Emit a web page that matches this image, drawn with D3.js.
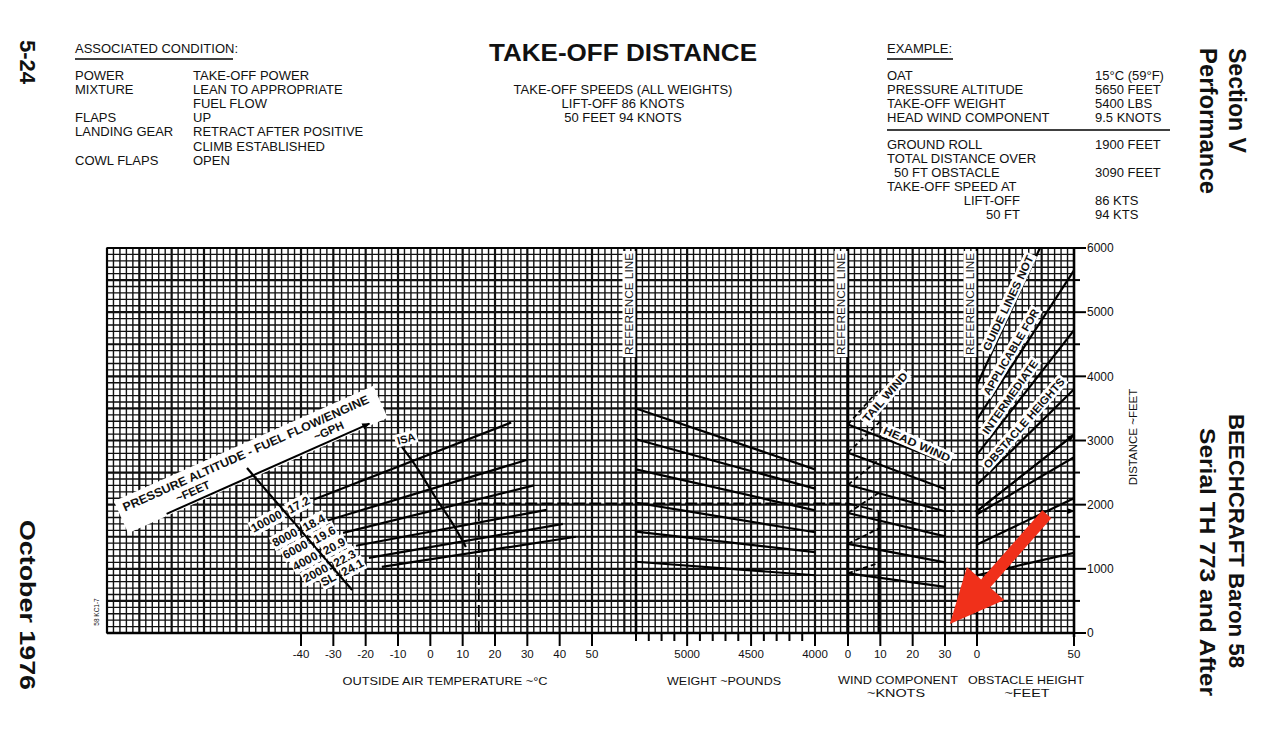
<!DOCTYPE html>
<html><head><meta charset="utf-8">
<script src="https://cdn.jsdelivr.net/npm/d3@7"></script>
<style>
body{margin:0;background:#fff;}
svg{display:block;}
text{font-family:"Liberation Sans",Arial,Helvetica,sans-serif;fill:#111;}
</style></head><body>
<svg id="c" width="1286" height="752"></svg>
<script>
// ---------------- DATA ----------------
const tempTicks = [-40,-30,-20,-10,0,10,20,30,40,50];
const weightTicks = [5000,4500,4000];
const weightMinorTicks = [5400,5300,5200,5100,4900,4800,4700,4600,4400,4300,4200,4100];
const windTicks = [0,10,20,30];
const obstacleTicks = [0,50];
const distanceTicks = [0,1000,2000,3000,4000,5000,6000];
const distanceMinorTicks = [500,1500,2500,3500,4500,5500];

const altitudeLabels = ["10000","8000","6000","4000","2000","SL"];
const fuelFlowLabels = ["17.2","18.4","19.6","20.9","22.3","24.1"];
const altStartTemp = [-36,-32,-27,-23,-19,-15];
const altStartDist = [2080,1750,1560,1360,1170,1030];
const altEndTemp   = [25,30,32,36,41,45];
const altEndDist   = [3280,2700,2300,1920,1700,1500];

const isaTemp = [-8.8,-3.8,1.5,6.7,11];
const isaDist = [2900,2550,2120,1720,1340];

const weightStartDist = [3500,3020,2550,2030,1580,1110]; // at 5400 lbs (reference)
const weightEndDist   = [2550,2250,1910,1570,1260,900];  // at 4000 lbs

const headStartDist = [3250,2810,2310,1870,1390,930];   // 0 kts
const headEndDist   = [2660,2245,1895,1505,1100,720];   // 30 kts head wind
const tailEndDist   = [3820,3300,2720,2200,1640,1100];  // 10 kts tail wind

const obstStartDist = [3870,3330,2780,2310,1900,1850,1380,900];  // 0 ft
const obstEndDist   = [7150,5650,4720,3800,3090,2740,2100,1250]; // 50 ft

// worked example
const exOAT = 15, exWeight = 5400, exWind = 9.5;
const exDistAtRef = 2020, exGroundRoll = 1900, exTotal = 3090;

// header texts
const condLabels = ["POWER","MIXTURE","","FLAPS","LANDING GEAR","","COWL FLAPS"];
const condValues = ["TAKE-OFF POWER","LEAN TO APPROPRIATE","FUEL FLOW","UP","RETRACT AFTER POSITIVE","CLIMB ESTABLISHED","OPEN"];
const exLabelsA = ["OAT","PRESSURE ALTITUDE","TAKE-OFF WEIGHT","HEAD WIND COMPONENT"];
const exValuesA = ["15°C (59°F)","5650 FEET","5400 LBS","9.5 KNOTS"];
const exLabelsB = ["GROUND ROLL","TOTAL DISTANCE OVER","50 FT OBSTACLE","TAKE-OFF SPEED AT","LIFT-OFF","50 FT"];
const exValuesB = ["1900 FEET","","3090 FEET","","86 KTS","94 KTS"];
const speedLines = ["TAKE-OFF SPEEDS (ALL WEIGHTS)","LIFT-OFF 86 KNOTS","50 FEET 94 KNOTS"];

// ---------------- SCALES ----------------
const L=107, R=1074, T=248, B=633;
const yD = d3.scaleLinear().domain([0,6000]).range([633,248]);
const xT = d3.scaleLinear().domain([-40,50]).range([301,592]);
const xW = d3.scaleLinear().domain([5400,4000]).range([636,815]);
const xK = d3.scaleLinear().domain([0,30]).range([848,945]);
const xO = d3.scaleLinear().domain([0,50]).range([977,1074]);
const ref1 = xW(5400), ref2 = xK(0), ref3 = xO(0);

const svg = d3.select("#c");
const defs = svg.append("defs");
defs.append("clipPath").attr("id","clip").append("rect").attr("x",L).attr("y",T).attr("width",R-L).attr("height",B-T);
defs.append("marker").attr("id","arr").attr("viewBox","0 0 10 10").attr("refX",9).attr("refY",5)
  .attr("markerWidth",8).attr("markerHeight",8).attr("markerUnits","userSpaceOnUse").attr("orient","auto")
  .append("path").attr("d","M0,1L10,5L0,9Z").attr("fill","#000");

// ---------------- GRID ----------------
const grid = svg.append("g").attr("stroke","#111");
function vgrid(vals, sc, isMajor){
  grid.append("g").selectAll("line").data(vals).join("line")
    .attr("x1",d=>sc(d)).attr("x2",d=>sc(d)).attr("y1",T).attr("y2",B)
    .attr("stroke-width",d=>isMajor(d)?2.2:1.4);
}
grid.append("g").selectAll("line").data(d3.range(0,6001,100)).join("line")
  .attr("x1",L).attr("x2",R).attr("y1",d=>yD(d)).attr("y2",d=>yD(d))
  .attr("stroke-width",d=>d%500===0?2.2:1.4);
vgrid(d3.range(-100,63,2), xT, d=>d%10===0);
vgrid(d3.range(5350,3749,-50), xW, d=>d%500===0);
vgrid(d3.range(2,40,2), xK, d=>d%10===0);
vgrid(d3.range(1,15).map(i=>i*50/15), xO, d=>Math.round(d*15/50)%5===0);
// borders and reference lines
const frame = svg.append("g").attr("stroke","#000");
frame.append("rect").attr("x",L).attr("y",T).attr("width",R-L).attr("height",B-T).attr("fill","none").attr("stroke-width",1.5);
[ref1,ref2,ref3].forEach(x=>frame.append("line").attr("x1",x).attr("x2",x).attr("y1",T).attr("y2",B).attr("stroke-width",2.6));
frame.append("line").attr("x1",R).attr("x2",R).attr("y1",T).attr("y2",B+4).attr("stroke-width",2.6);
frame.append("line").attr("x1",L).attr("x2",R).attr("y1",B).attr("y2",B).attr("stroke-width",2.6);

// ---------------- HELPERS ----------------
function label(x,y,ang,str,o){
  o = o||{};
  const grp = svg.append("g").attr("transform",`translate(${x},${y}) rotate(${ang})`);
  const t = grp.append("text").text(str).attr("text-anchor",o.anchor||"middle").attr("dy",o.dy||"0.36em")
    .style("font-size",(o.size||10)+"px").style("font-weight",o.weight||"normal");
  if(o.len) t.attr("textLength",o.len).attr("lengthAdjust","spacingAndGlyphs");
  if(o.bg){
    const b=t.node().getBBox(), p=o.pad||2;
    grp.insert("rect","text").attr("x",b.x-p).attr("y",b.y-0.5).attr("width",b.width+2*p).attr("height",b.height+1).attr("fill","#fff");
  }
  return grp;
}
const lineGen = d3.line();
const marks = svg.append("g").attr("clip-path","url(#clip)");

// ---------------- TEMPERATURE PANEL ----------------
// banner
const ban = svg.append("g").attr("transform","translate(126,521) rotate(-24)");
ban.append("rect").attr("x",-3).attr("y",-23).attr("width",284).attr("height",35).attr("fill","#fff");
ban.append("text").attr("x",3).attr("y",-9).text("PRESSURE ALTITUDE - FUEL FLOW/ENGINE")
  .style("font-size","12px").style("font-weight","bold").attr("textLength",268).attr("lengthAdjust","spacingAndGlyphs");
ban.append("text").attr("x",55).attr("y",4).text("~FEET").style("font-size","11.5px").style("font-weight","bold");
ban.append("text").attr("x",206).attr("y",4).text("~GPH").style("font-size","11.5px").style("font-weight","bold");
ban.append("line").attr("x1",40).attr("y1",10).attr("x2",262).attr("y2",10).attr("stroke","#000").attr("stroke-width",2).attr("marker-end","url(#arr)");

// diagonal scale
const diagA=[xT(-56.7),yD(2571)], diagB=[xT(-24.2),yD(670)];
svg.append("path").attr("d",lineGen([diagA,diagB])).attr("stroke","#000").attr("stroke-width",2.2).attr("fill","none");

altitudeLabels.forEach((lab,i)=>{
  const p0=[xT(altStartTemp[i]),yD(altStartDist[i])], p1=[xT(altEndTemp[i]),yD(altEndDist[i])];
  marks.append("path").attr("d",lineGen([p0,p1])).attr("stroke","#000").attr("stroke-width",2.2).attr("fill","none");
  const ux=p1[0]-p0[0], uy=p1[1]-p0[1], n=Math.hypot(ux,uy), u=[ux/n,uy/n];
  const dx=diagB[0]-diagA[0], dy=diagB[1]-diagA[1];
  const det = u[0]*(-dy) - u[1]*(-dx);
  const s = ((diagA[0]-p0[0])*(-dy) - (diagA[1]-p0[1])*(-dx))/det;
  const X=[p0[0]+s*u[0], p0[1]+s*u[1]];
  label(X[0]-3,X[1]+2,-28,lab,{anchor:"end",size:12,weight:"bold",bg:true,pad:1});
  label(X[0]+4,X[1]-1,-28,fuelFlowLabels[i],{anchor:"start",size:12,weight:"bold",bg:true,pad:1});
});
// ISA
marks.append("path").attr("d",d3.line().curve(d3.curveNatural)(isaTemp.map((t,i)=>[xT(t),yD(isaDist[i])])))
  .attr("stroke","#000").attr("stroke-width",2.2).attr("fill","none");
label(xT(-7.5),yD(3030),-15,"ISA",{size:11,weight:"bold",bg:true,pad:2});

// ---------------- WEIGHT PANEL ----------------
weightStartDist.forEach((d,i)=>{
  marks.append("path").attr("d",lineGen([[xW(5400),yD(d)],[xW(4000),yD(weightEndDist[i])]]))
    .attr("stroke","#000").attr("stroke-width",2.2).attr("fill","none");
});
// ---------------- WIND PANEL ----------------
headStartDist.forEach((d,i)=>{
  marks.append("path").attr("d",lineGen([[xK(0),yD(d)],[xK(30),yD(headEndDist[i])]]))
    .attr("stroke","#000").attr("stroke-width",2.2).attr("fill","none");
  marks.append("path").attr("d",lineGen([[xK(0),yD(d)],[xK(10),yD(tailEndDist[i])]]))
    .attr("stroke","#000").attr("stroke-width",1.8).attr("stroke-dasharray","5,3").attr("fill","none");
});
label(885,397,-48.6,"TAIL WIND",{size:11,weight:"bold",bg:true,pad:2,len:62});
label(917,444,23.7,"HEAD WIND",{size:11,weight:"bold",bg:true,pad:2,len:72});
// ---------------- OBSTACLE PANEL ----------------
obstStartDist.forEach((d,i)=>{
  marks.append("path").attr("d",lineGen([[xO(0),yD(d)],[xO(50),yD(obstEndDist[i])]]))
    .attr("stroke","#000").attr("stroke-width",2.2).attr("fill","none");
});
label(1008,303,-64.6,"GUIDE LINES NOT",{size:11,weight:"bold",bg:true,pad:2,len:104});
label(1011,352,-59.2,"APPLICABLE FOR",{size:11,weight:"bold",bg:true,pad:2,len:98});
label(1010,397,-55,"INTERMEDIATE",{size:11,weight:"bold",bg:true,pad:2,len:88});
label(1024,423,-48.6,"OBSTACLE HEIGHTS",{size:11,weight:"bold",bg:true,pad:2,len:116});

// reference line labels
[ref1,ref2,ref3].forEach(x=>label(x-7,304,-90,"REFERENCE LINE",{size:11,bg:true,pad:2,len:102}));

// ---------------- EXAMPLE PATH ----------------
const ex = svg.append("g").attr("stroke","#000").attr("fill","none").attr("stroke-width",1.8);
ex.append("path").attr("d",lineGen([[xT(exOAT),yD(0)],[xT(exOAT),yD(exDistAtRef)],[xW(exWeight),yD(exDistAtRef)],[xK(0),yD(exDistAtRef)],[xK(exWind),yD(exGroundRoll)]]))
  .attr("stroke-dasharray","12,4");
ex.append("path").attr("d",lineGen([[xK(exWind),yD(0)],[xK(exWind),yD(exGroundRoll)]])).attr("stroke-width",2.4);
ex.append("path").attr("d",lineGen([[xK(exWind),yD(exGroundRoll)],[xO(0),yD(exGroundRoll)],[R,yD(exGroundRoll)]]))
  .attr("stroke-dasharray","12,4").attr("marker-end","url(#arr)");
ex.append("path").attr("d",lineGen([[xO(0),yD(exGroundRoll)],[xO(50),yD(exTotal)]])).attr("marker-end","url(#arr)");

// ---------------- AXES ----------------
const ax = svg.append("g").attr("stroke","#000");
function bottomTicks(vals, sc, len, w){
  ax.append("g").selectAll("line").data(vals).join("line")
    .attr("x1",d=>sc(d)).attr("x2",d=>sc(d)).attr("y1",B).attr("y2",B+len).attr("stroke-width",w);
}
function bottomLabels(vals, sc){
  svg.append("g").selectAll("text").data(vals).join("text").attr("x",d=>sc(d)).attr("y",658)
    .attr("text-anchor","middle").style("font-size","11.5px").text(d=>d);
}
bottomTicks(tempTicks,xT,13,2); bottomLabels(tempTicks,xT);
bottomTicks(weightMinorTicks,xW,8,2); bottomTicks(weightTicks,xW,13,2); bottomLabels(weightTicks,xW);
bottomTicks(windTicks,xK,13,2); bottomLabels(windTicks,xK);
bottomTicks(obstacleTicks,xO,13,2); bottomLabels(obstacleTicks,xO);
// right distance axis
ax.append("g").selectAll("line").data(distanceTicks).join("line").attr("x1",R).attr("x2",R+12).attr("y1",d=>yD(d)).attr("y2",d=>yD(d)).attr("stroke-width",2);
ax.append("g").selectAll("line").data(distanceMinorTicks).join("line").attr("x1",R).attr("x2",R+6).attr("y1",d=>yD(d)).attr("y2",d=>yD(d)).attr("stroke-width",2);
svg.append("g").selectAll("text").data(distanceTicks).join("text").attr("x",R+13).attr("y",d=>yD(d)).attr("dy","0.36em")
  .style("font-size","12px").text(d=>d);
label(1133,437,-90,"DISTANCE ~FEET",{size:11.5});

// axis titles
const at=[["OUTSIDE AIR TEMPERATURE ~°C",445,685,205],["WEIGHT ~POUNDS",724,685,114],["WIND COMPONENT",898,684,120],["~KNOTS",896,697,58],["OBSTACLE HEIGHT",1026,684,116],["~FEET",1027,697,45]];
at.forEach(a=>svg.append("text").attr("x",a[1]).attr("y",a[2]).attr("text-anchor","middle").style("font-size","11.5px")
  .attr("textLength",a[3]).attr("lengthAdjust","spacingAndGlyphs").text(a[0]));
label(97,612,-90,"58 KC1-7",{size:6.5});

// ---------------- RED ARROW ----------------
const arrowTail=[xO(36),yD(1850)], arrowTip=[xO(-14),yD(140)];
(function(){
  const dx=arrowTip[0]-arrowTail[0], dy=arrowTip[1]-arrowTail[1], n=Math.hypot(dx,dy);
  const u=[dx/n,dy/n], p=[-u[1],u[0]], hl=54, hw=25, sw=6;
  const base=[arrowTip[0]-u[0]*hl, arrowTip[1]-u[1]*hl];
  const pts=[
    [arrowTail[0]+p[0]*sw,arrowTail[1]+p[1]*sw],[base[0]+p[0]*sw,base[1]+p[1]*sw],[base[0]+p[0]*hw,base[1]+p[1]*hw],
    arrowTip,[base[0]-p[0]*hw,base[1]-p[1]*hw],[base[0]-p[0]*sw,base[1]-p[1]*sw],[arrowTail[0]-p[0]*sw,arrowTail[1]-p[1]*sw]];
  svg.append("path").attr("d",d3.line()(pts)+"Z").attr("fill","#f0301a");
})();

// ---------------- HEADER ----------------
const hd = svg.append("g").style("font-size","13px");
hd.append("text").attr("x",75).attr("y",53).text("ASSOCIATED CONDITION:");
hd.append("line").attr("x1",75).attr("x2",233).attr("y1",59).attr("y2",59).attr("stroke","#000").attr("stroke-width",1.5);
condLabels.forEach((s,i)=>hd.append("text").attr("x",75).attr("y",80+14.1*i).text(s));
condValues.forEach((s,i)=>hd.append("text").attr("x",193).attr("y",80+14.1*i).text(s));

svg.append("text").attr("x",623).attr("y",61).attr("text-anchor","middle").style("font-size","23px").style("font-weight","bold")
  .attr("textLength",268).attr("lengthAdjust","spacingAndGlyphs").text("TAKE-OFF DISTANCE");
speedLines.forEach((s,i)=>hd.append("text").attr("x",623).attr("y",93.5+14*i).attr("text-anchor","middle").text(s));

hd.append("text").attr("x",887).attr("y",53).text("EXAMPLE:");
hd.append("line").attr("x1",887).attr("x2",953).attr("y1",59).attr("y2",59).attr("stroke","#000").attr("stroke-width",1.5);
exLabelsA.forEach((s,i)=>hd.append("text").attr("x",887).attr("y",80+14*i).text(s));
exValuesA.forEach((s,i)=>hd.append("text").attr("x",1095).attr("y",80+14*i).text(s));
hd.append("line").attr("x1",887).attr("x2",1170).attr("y1",130).attr("y2",130).attr("stroke","#000").attr("stroke-width",1.5);
exLabelsB.forEach((s,i)=>{
  const t=hd.append("text").attr("y",148.5+14*i).text(s);
  if(i>=4) t.attr("x",1020).attr("text-anchor","end"); else t.attr("x",i===2?894:887);
});
exValuesB.forEach((s,i)=>hd.append("text").attr("x",1095).attr("y",148.5+14*i).text(s));

// side texts (rotated)
function side(x,y,str,len,fs){
  const t=svg.append("text").attr("transform",`translate(${x},${y}) rotate(90)`).style("font-size",(fs||22)+"px").style("font-weight","bold").text(str);
  if(len) t.attr("textLength",len).attr("lengthAdjust","spacingAndGlyphs");
}
side(1229,48,"Section V",null,23);
side(1200,48,"Performance",146,23);
side(1229,414,"BEECHCRAFT Baron 58",254);
side(1200,428,"Serial TH 773 and After",268);
side(20,40,"5-24");
side(20,520,"October 1976",170);
</script></body></html>
